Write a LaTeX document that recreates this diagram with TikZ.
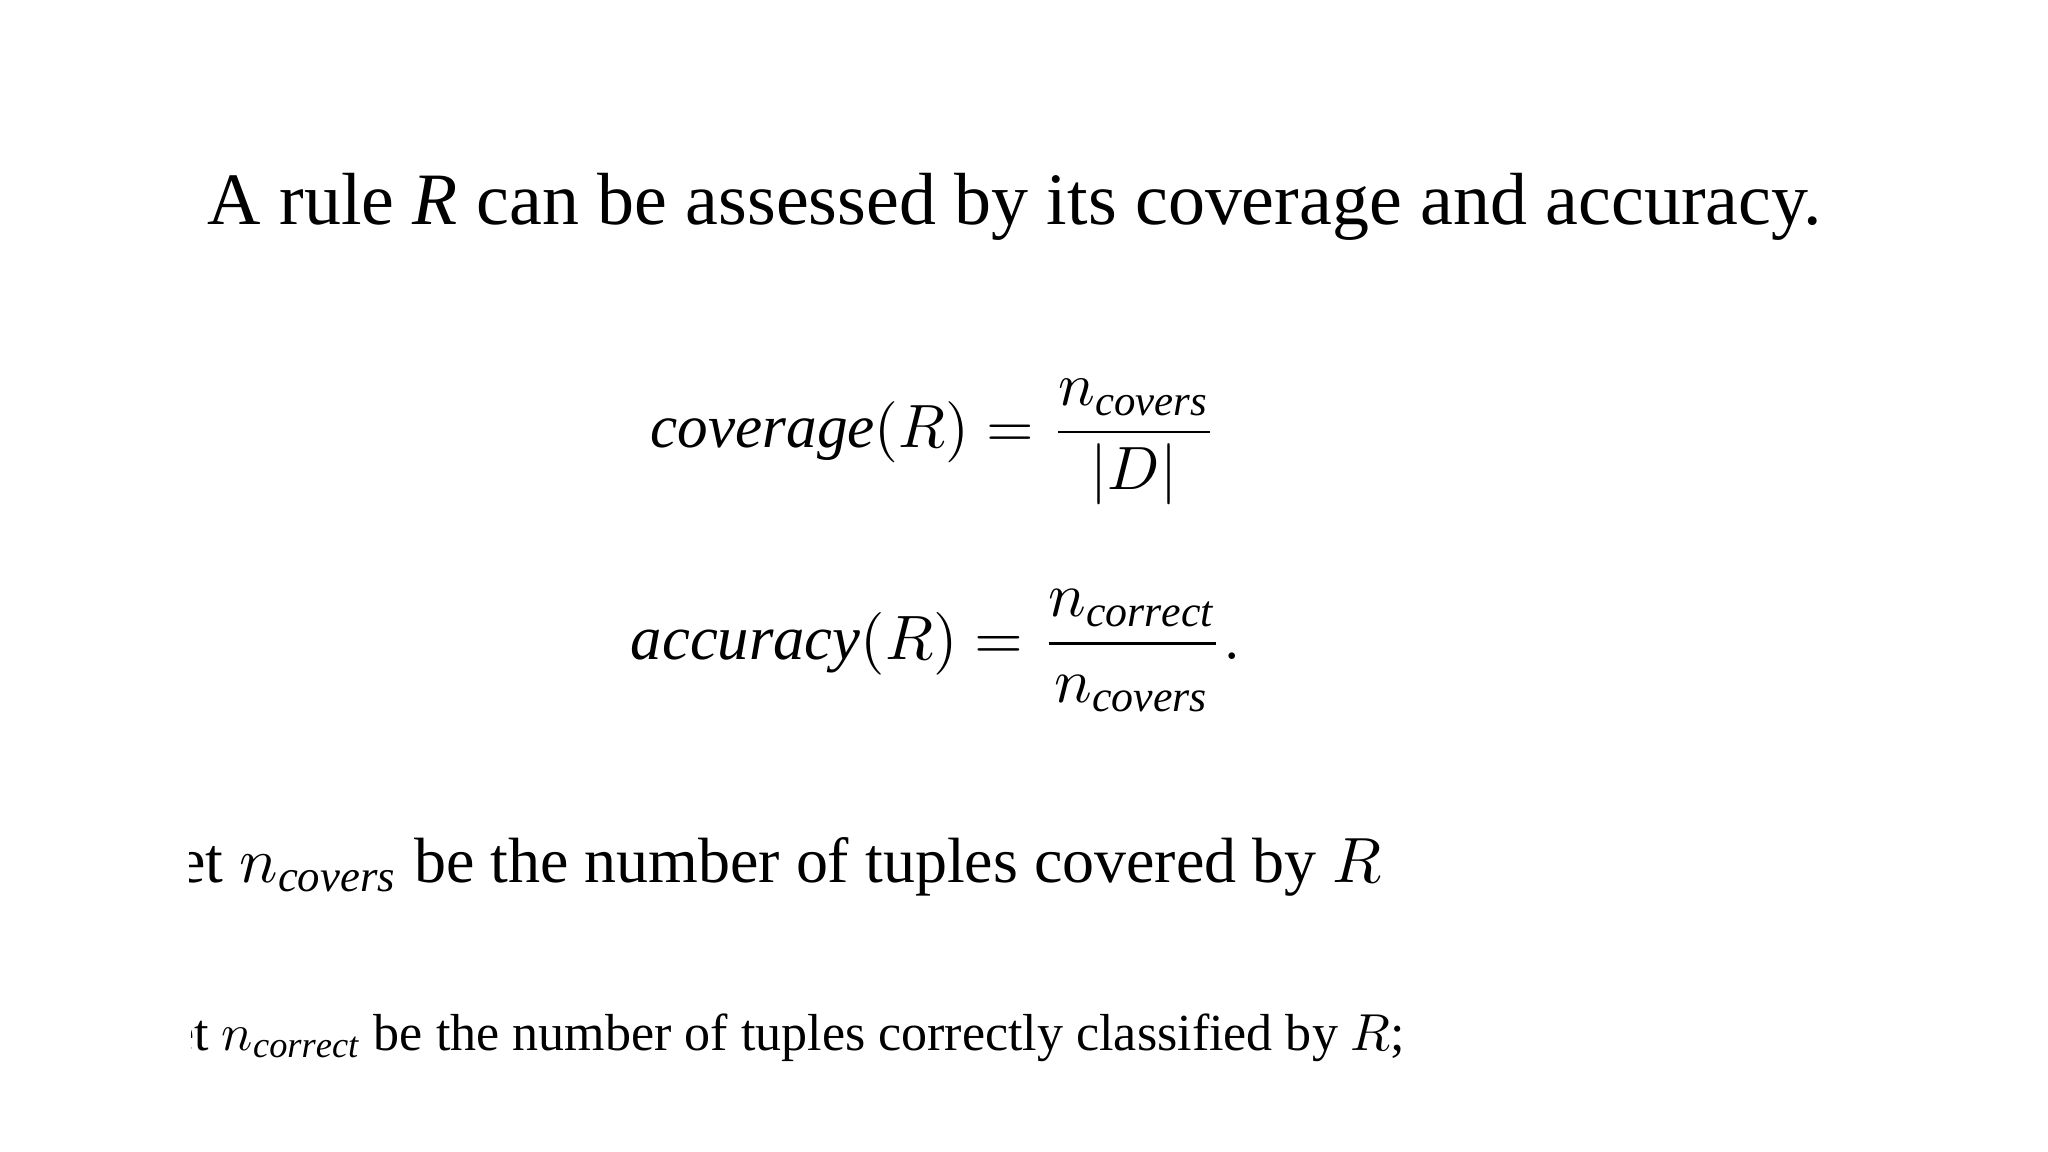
\documentclass[tikz,border=0pt]{standalone}
\usepackage{amsmath}
\usepackage{fontspec}
\setmainfont{Liberation Serif}
\usepackage{graphicx}
\begin{document}
\begin{tikzpicture}[x=0.01cm,y=-0.01cm,
  txt/.style={inner sep=0pt,anchor=base west}]
\useasboundingbox[fill=white] (0,0) rectangle (2048,1152);
\node[txt] (title) at (207,225) {\resizebox{16.13cm}{!}{A rule \textit{R} can be assessed by its coverage and accuracy.}};
\node[inner sep=0pt] (cov) at (934,442) {\resizebox{5.66cm}{!}{$\mathit{coverage}(R)=\dfrac{n_{\mathit{covers}}}{|D|}$}};
\node[inner sep=0pt] (acc) at (936,651) {\resizebox{6.1cm}{!}{$\mathit{accuracy}(R)=\dfrac{n_{\mathit{correct}}}{n_{\mathit{covers}}}.$}};
\begin{scope}
\clip (189,800) rectangle (1383,930);
\node[txt,anchor=base east] (l3) at (1400,882) {\resizebox{12.6cm}{!}{Let $n_{\mathit{covers}}$ be the number of tuples covered by $R$;}};
\end{scope}
\begin{scope}
\clip (191,990) rectangle (1420,1090);
\node[txt,anchor=base east] (l4) at (1406,1050) {\resizebox{12.65cm}{!}{Let $n_{\mathit{correct}}$ be the number of tuples correctly classified by $R$;}};
\end{scope}
\end{tikzpicture}
\end{document}
